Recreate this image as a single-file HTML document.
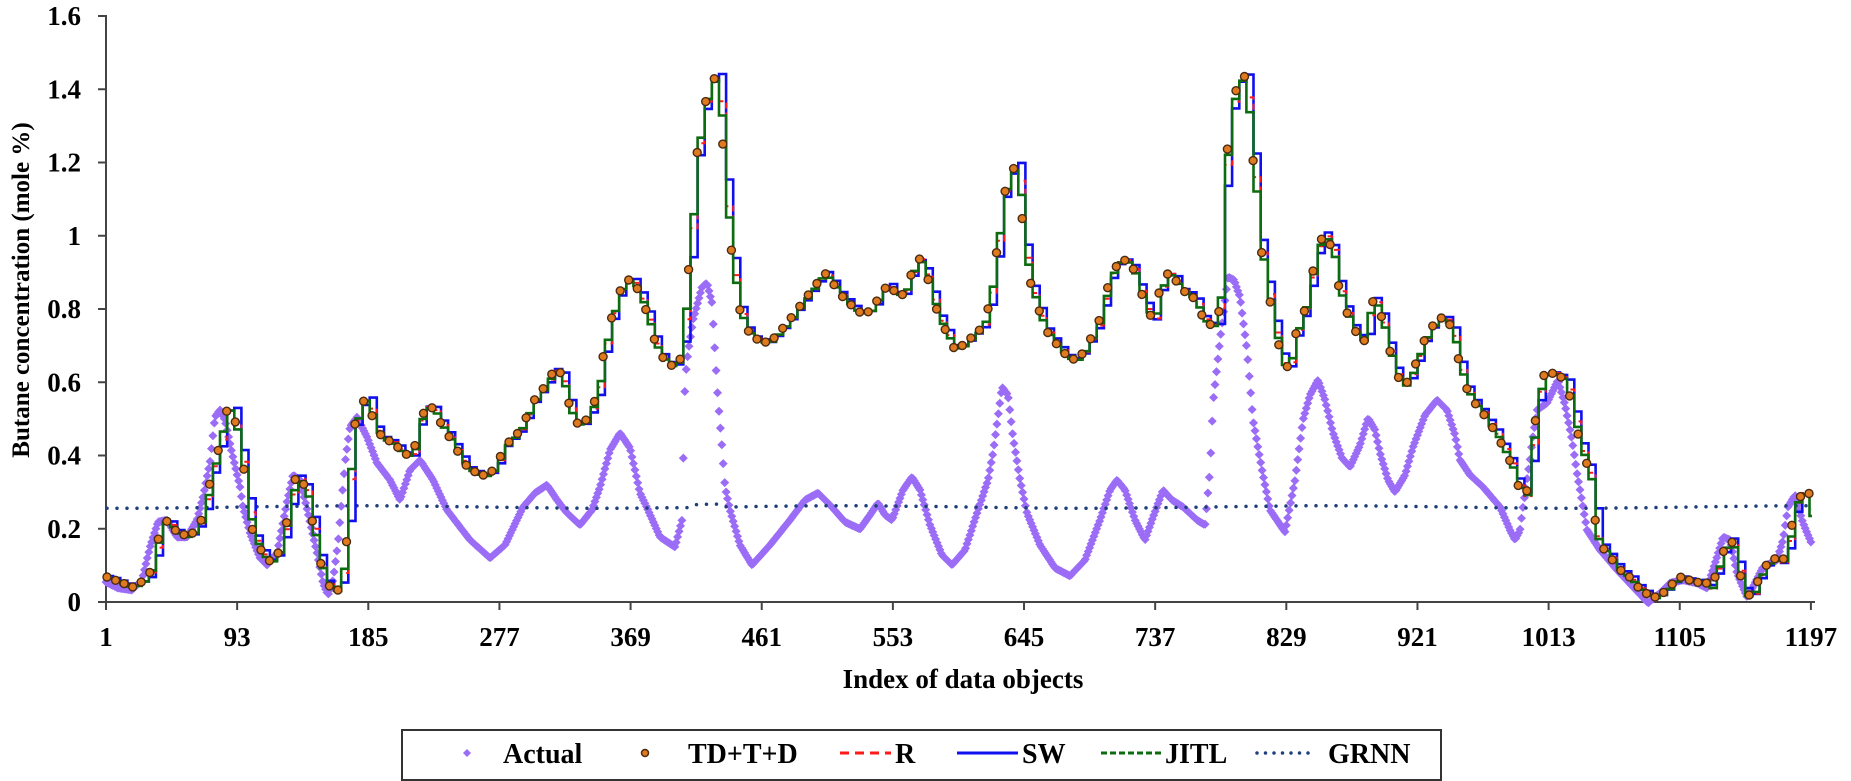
<!DOCTYPE html>
<html><head><meta charset="utf-8"><style>
html,body{margin:0;padding:0;background:#fff;}
svg{display:block;}
text{font-family:"Liberation Serif",serif;font-weight:bold;fill:#000;}
</style></head><body>
<svg id="s" width="1851" height="781" viewBox="0 0 1851 781" xmlns="http://www.w3.org/2000/svg">
<g id="ax"></g>
<g id="series"></g>
<text x="963" y="688" font-size="27" text-anchor="middle">Index of data objects</text>
<text transform="translate(29,290) rotate(-90)" font-size="25" text-anchor="middle">Butane concentration (mole %)</text>
<rect x="402" y="730" width="1039" height="50" fill="#fff" stroke="#333" stroke-width="2"/>
<path d="M467,749 l4,4 l-4,4 l-4,-4z" fill="#9b6cf5"/>
<text x="503" y="763" font-size="28">Actual</text>
<circle cx="645" cy="753" r="3.5" fill="#e07a1f" stroke="#4a2a10" stroke-width="1.5"/>
<text x="688" y="763" font-size="28">TD+T+D</text>
<line x1="840" y1="753" x2="891" y2="753" stroke="#ff1a1a" stroke-width="3" stroke-dasharray="9 6"/>
<text x="895" y="763" font-size="28">R</text>
<line x1="957" y1="753" x2="1018" y2="753" stroke="#1010ee" stroke-width="3"/>
<text x="1022" y="763" font-size="28">SW</text>
<line x1="1101" y1="753" x2="1161" y2="753" stroke="#0d6b10" stroke-width="3" stroke-dasharray="6 3"/>
<text x="1165" y="763" font-size="28">JITL</text>
<line x1="1257" y1="753" x2="1316" y2="753" stroke="#1f3f7a" stroke-width="3.5" stroke-dasharray="0 8.5" stroke-linecap="round"/>
<text x="1328" y="763" font-size="28">GRNN</text>
</svg>
<script>
var NS="http://www.w3.org/2000/svg";
function el(p,t,a){var e=document.createElementNS(NS,t);for(var k in a)e.setAttribute(k,a[k]);p.appendChild(e);return e;}
var ax=document.getElementById('ax'),se=document.getElementById('series');
function Y(v){return 602-366.25*v;}
function X(i){return 106+(i-1)*1.4255;}
el(ax,'line',{x1:106,y1:15,x2:106,y2:603,stroke:'#444','stroke-width':2});
el(ax,'line',{x1:105,y1:602,x2:1815,y2:602,stroke:'#444','stroke-width':2});
for(var k=0;k<=8;k++){var v=k*0.2,y=Y(v);
 el(ax,'line',{x1:98,y1:y,x2:106,y2:y,stroke:'#444','stroke-width':2});
 var t=el(ax,'text',{x:81,y:y+9,'font-size':27,'text-anchor':'end'});t.textContent=(k==0?'0':k==5?'1':v.toFixed(1));}
for(var k=0;k<=13;k++){var i=1+92*k,x=X(i);
 el(ax,'line',{x1:x,y1:602,x2:x,y2:610,stroke:'#444','stroke-width':2});
 var t=el(ax,'text',{x:x,y:646,'font-size':27,'text-anchor':'middle'});t.textContent=i;}
var P=[[106,577],[132,587],[147,578],[155,553],[160,523],[167,521],[175,531],[188,537],[197,527],[203,514],[210,477],[220,440],[223,413],[232,407],[236,433],[243,470],[247,503],[252,533],[260,550],[267,561],[273,560],[280,548],[288,512],[295,475],[305,487],[312,525],[318,557],[325,582],[332,590],[338,590],[345,553],[348,483],[353,427],[362,402],[367,395],[373,425],[382,438],[393,443],[402,453],[412,457],[417,427],[425,407],[433,408],[438,420],[452,443],[460,457],[467,468],[480,475],[488,475],[497,463],[503,447],[518,432],[525,418],[532,402],[545,385],[553,370],[560,373],[567,400],[573,422],[582,425],[588,415],[597,393],[602,357],[610,320],[617,297],[623,280],[632,280],[638,292],[645,310],[652,335],[658,353],[667,363],[673,367],[680,358],[688,265],[695,160],[703,108],[710,82],[717,75],[720,115],[725,195],[732,267],[738,307],[745,328],[753,338],[767,343],[773,338],[782,328],[790,318],[802,302],[817,282],[823,272],[832,283],[838,293],[847,302],[858,312],[867,312],[873,307],[880,292],[888,285],[895,293],[903,295],[910,275],[918,258],[925,272],[932,297],[938,317],[947,335],[953,348],[963,345],[973,335],[982,327],[988,305],[995,257],[1002,198],[1010,172],[1017,163],[1020,203],[1023,243],[1030,285],[1038,310],[1043,327],[1050,337],[1058,347],[1067,357],[1075,360],[1082,353],[1090,338],[1097,325],[1103,302],[1110,275],[1118,262],[1125,260],[1132,268],[1138,287],[1147,310],[1153,323],[1158,293],[1167,273],[1173,277],[1180,290],[1187,293],[1195,300],[1202,318],[1210,325],[1217,325],[1220,280],[1223,187],[1230,110],[1237,83],[1245,75],[1247,107],[1253,170],[1258,237],[1267,290],[1275,333],[1282,363],[1288,368],[1295,333],[1303,313],[1310,280],[1317,248],[1323,233],[1332,250],[1338,288],[1345,310],[1352,328],[1360,338],[1365,342],[1367,317],[1373,298],[1380,315],[1388,348],[1395,372],[1402,387],[1408,380],[1415,363],[1422,343],[1430,328],[1438,318],[1445,318],[1452,330],[1458,362],[1465,387],[1473,402],[1482,413],[1488,423],[1495,432],[1502,447],[1510,463],[1517,485],[1525,497],[1530,458],[1537,398],[1543,375],[1553,373],[1565,380],[1580,447],[1588,470],[1593,497],[1595,535],[1602,548],[1608,555],[1617,568],[1623,573],[1630,578],[1637,587],[1645,593],[1650,598],[1658,596],[1667,589],[1673,582],[1680,577],[1688,580],[1695,583],[1703,580],[1710,589],[1717,568],[1723,550],[1730,538],[1738,570],[1745,595],[1752,595],[1758,578],[1766,564],[1773,558],[1780,565],[1787,547],[1795,503],[1802,493],[1808,493],[1810,515]];
var A=[[106,582],[118,588],[132,590],[142,580],[150,547],[158,522],[167,520],[177,537],[187,537],[197,520],[203,497],[210,462],[215,417],[220,410],[225,420],[232,453],[240,487],[243,507],[250,533],[260,558],[267,565],[277,553],[287,502],[293,475],[300,480],[308,513],[317,553],[323,583],[328,595],[333,580],[338,543],[345,463],[350,427],[357,417],[367,437],[377,463],[390,480],[400,500],[410,470],[420,460],[433,480],[447,510],[470,540],[490,558],[505,545],[523,507],[535,493],[547,485],[557,500],[567,513],[580,525],[592,510],[600,487],[610,450],[620,433],[630,448],[640,493],[648,510],[660,537],[675,547],[682,520],[685,380],[688,353],[693,320],[702,287],[707,283],[712,303],[715,353],[718,400],[722,447],[725,487],[730,510],[740,545],[752,565],[770,545],[790,520],[805,500],[818,493],[830,505],[845,522],[860,529],[870,515],[878,503],[885,515],[892,520],[903,490],[912,477],[920,490],[930,525],[942,555],[952,565],[965,550],[978,510],[988,480],[993,453],[1002,387],[1008,395],[1013,437],[1020,480],[1027,513],[1040,545],[1055,568],[1070,576],[1085,560],[1100,520],[1110,490],[1117,480],[1125,490],[1135,520],[1145,540],[1152,520],[1163,490],[1172,500],[1183,507],[1197,520],[1205,525],[1210,470],[1213,403],[1220,340],[1228,277],[1234,280],[1240,297],[1247,350],[1253,420],[1262,470],[1270,510],[1285,532],[1295,480],[1303,420],[1310,395],[1318,380],[1325,400],[1333,433],[1342,458],[1350,467],[1360,445],[1368,418],[1375,430],[1380,453],[1388,480],[1395,492],[1405,475],[1413,447],[1425,415],[1437,400],[1447,410],[1455,435],[1460,460],[1470,475],[1483,487],[1500,507],[1510,530],[1515,540],[1520,530],[1523,507],[1530,460],[1532,443],[1537,410],[1547,403],[1558,380],[1565,405],[1572,440],[1577,473],[1583,507],[1587,530],[1600,550],[1617,570],[1633,587],[1648,603],[1660,593],[1670,583],[1683,580],[1697,583],[1707,588],[1717,557],[1723,537],[1730,540],[1737,573],[1747,597],[1753,587],[1763,567],[1777,560],[1783,540],[1788,507],[1795,495],[1803,523],[1813,547]];
function interp(L,x){if(x<=L[0][0])return L[0][1];for(var i=1;i<L.length;i++){if(x<=L[i][0]){var a=L[i-1],b=L[i];var t=(x-a[0])/((b[0]-a[0])||1);return a[1]+t*(b[1]-a[1]);}}return L[L.length-1][1];}
var g='';for(var x=107;x<=1812;x+=10){var y=507+Math.sin(x*0.013)*1.2+(x>690&&x<720?-3:0);g+=(g?'L':'M')+x.toFixed(1)+','+y.toFixed(1);}
var ad='';for(var i=1;i<=1197;i++){var x=X(i);if(x>1813)break;var y=interp(A,x);ad+='M'+x.toFixed(1)+','+(y-4.5).toFixed(1)+'l4.5,4.5l-4.5,4.5l-4.5,-4.5z';}
el(se,'path',{d:ad,fill:'#9b6cf5'});
el(se,'path',{d:g,fill:'none',stroke:'#1f3f7a','stroke-width':3.5,'stroke-dasharray':'0 10','stroke-linecap':'round'});
var step=1.4255*5;
function stepPath(off,dy){var d='';for(var x=106;x<=1812;x+=step){var y=interp(P,x+off)+dy;if(d==='')d='M'+(x).toFixed(1)+','+y.toFixed(1);else d+='V'+y.toFixed(1);d+='H'+Math.min(x+step,1812).toFixed(1);}return d;}
el(se,'path',{d:stepPath(-2,-1),fill:'none',stroke:'#1010ee','stroke-width':2.6});
el(se,'path',{d:stepPath(0,0),fill:'none',stroke:'#ff1a1a','stroke-width':2,'stroke-dasharray':'6 4'});
el(se,'path',{d:stepPath(1,1),fill:'none',stroke:'#0d6b10','stroke-width':2.6});
var ms=1.4255*6;
for(var x=106;x<=1812;x+=ms){var y=interp(P,x);el(se,'circle',{cx:(x+1).toFixed(1),cy:y.toFixed(1),r:4,fill:'#e07a1f',stroke:'#4a2a10','stroke-width':1.4});}
</script>
</body></html>
